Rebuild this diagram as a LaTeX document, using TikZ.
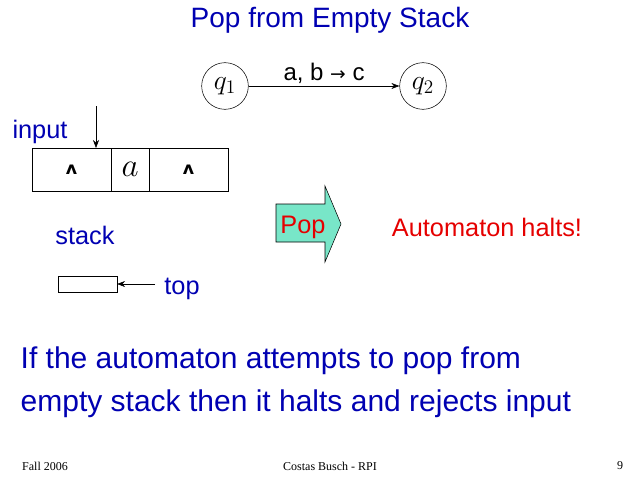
\documentclass[tikz,border=0pt]{standalone}
\usepackage{fontspec}
\usetikzlibrary{arrows.meta}
\setmainfont{Liberation Serif}
\newfontfamily\cs{Liberation Sans}
\newfontfamily\dv{DejaVu Sans}
\begin{document}
\begin{tikzpicture}[x=0.75pt,y=-0.75pt,
  blu/.style={text=blue!70!black,font=\cs\fontsize{19}{22}\selectfont},
  st/.style={draw,circle,minimum size=35pt,inner sep=0pt,font=\fontsize{22}{24}\selectfont},
  cell/.style={draw,minimum height=32pt,inner sep=0pt,anchor=north west},
  foot/.style={font=\fontsize{9}{10}\selectfont},
  >={Stealth[length=6pt,width=4.5pt]}]
\useasboundingbox (0,0) rectangle (638,478);
\node[blu,font=\cs\fontsize{21}{24}\selectfont] (title) at (330,20) {Pop from Empty Stack};
\node[st] (q1) at (225,86) {$q_1$};
\node[st] (q2) at (423,86) {$q_2$};
\draw[->] (q1) -- node[above,font=\cs\fontsize{18}{20}\selectfont,yshift=-2pt]{a, b {\dv\fontsize{14}{16}\selectfont→} c} (q2);
\node[cell,minimum width=59pt] (c1) at (32,148) {\dv\bfseries\fontsize{13}{14}\selectfont ʌ};
\node[cell,minimum width=28.5pt] (c2) at (111,148) {\fontsize{24}{26}\selectfont$a$};
\node[cell,minimum width=59pt] (c3) at (149,148) {\dv\bfseries\fontsize{13}{14}\selectfont ʌ};
\coordinate (ha) at (96,106);
\coordinate (hb) at (96,148);
\draw[->] (ha) -- (hb);
\node[blu] (inp) at (40,132) {input};
\node[blu] (stk) at (85,235) {stack};
\node[draw,minimum width=44pt,minimum height=12pt,inner sep=0pt] (stack) at (87.5,284) {};
\coordinate (ta) at (155,284);
\draw[->] (ta) -- (stack.east);
\node[blu] (top) at (182,289) {top};
\draw[fill={rgb,255:red,120;green,230;blue,200}] (276,204) -- (325,204) -- (325,186) -- (341,224) -- (325,262) -- (325,242) -- (276,242) -- cycle;
\node[text=red!90!black,font=\cs\fontsize{19}{22}\selectfont] (pop) at (303,227) {Pop};
\node[text=red!90!black,font=\cs\fontsize{19}{22}\selectfont] (halt) at (487,227) {Automaton halts!};
\node[blu,anchor=west,font=\cs\fontsize{22.5}{26}\selectfont] (l1) at (16,361) {If the automaton attempts to pop from};
\node[blu,anchor=west,font=\cs\fontsize{22.5}{26}\selectfont] (l2) at (16,404) {empty stack then it halts and rejects input};
\node[foot] (f1) at (45,466) {Fall 2006};
\node[foot] (f2) at (330,466) {Costas Busch - RPI};
\node[foot] (f3) at (620,466) {9};
\end{tikzpicture}
\end{document}
